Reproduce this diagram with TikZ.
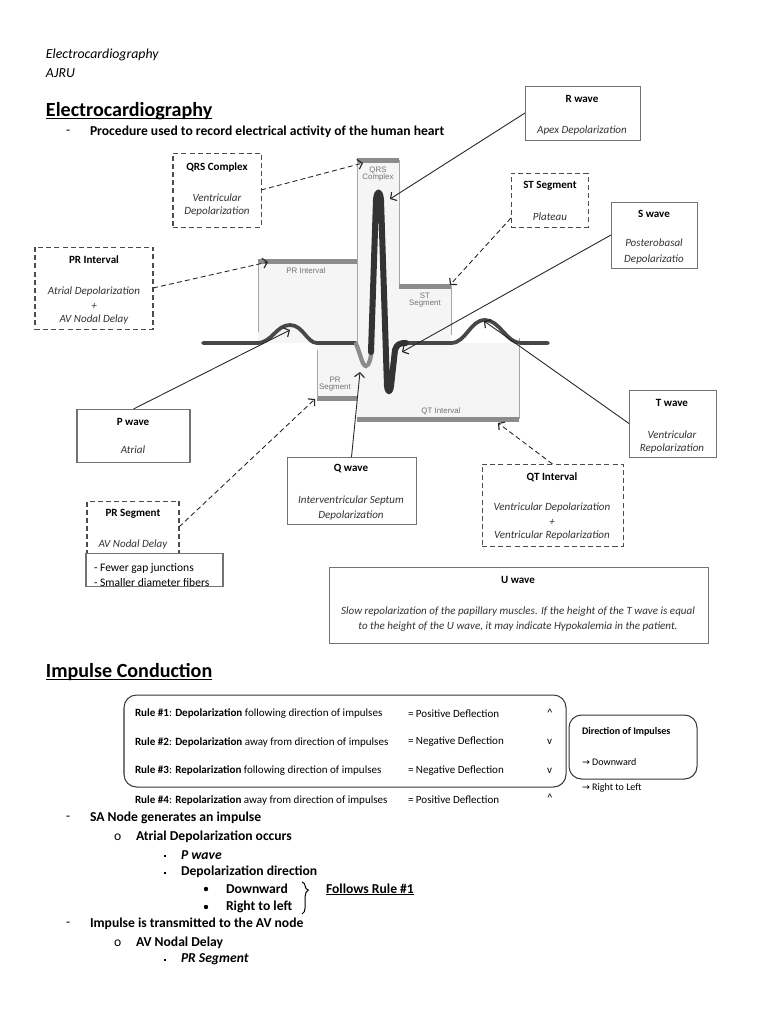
\documentclass[tikz,border=0pt]{standalone}
\usepackage{fontspec}
\setmainfont{Carlito}
\newfontfamily\arialf{Liberation Sans}
\newfontfamily\dejavu{DejaVu Sans}
\usetikzlibrary{arrows.meta,decorations.pathreplacing,fit}
\begin{document}
\begin{tikzpicture}[x=0.797pt,y=-0.797pt,
  every node/.style={inner sep=0pt, outer sep=0pt},
  txt/.style={anchor=west},
  boxs/.style={draw=black!55, line width=0.8pt, rectangle, inner sep=0pt},
  boxd/.style={draw=black!70, line width=0.8pt, rectangle, inner sep=0pt, dash pattern=on 4pt off 2.5pt},
  ttl/.style={font=\fontsize{8.8}{10}\selectfont\bfseries},
  itl/.style={font=\fontsize{8.8}{10}\selectfont\itshape, text=black!80},
  con/.style={draw=black!85, line width=0.7pt, -{Straight Barb[length=3.5pt,width=8pt,line width=0.9pt]}},
  cond/.style={con, dash pattern=on 4pt off 2.5pt},
  ivfill/.style={fill=black!4},
  ivline/.style={draw=black!35, line width=0.8pt},
  ivbar/.style={fill=black!45},
  ivlab/.style={font=\arialf\fontsize{6.3}{7}\selectfont, text=black!55, align=center},
  trace/.style={draw=black!72, line width=3pt, line cap=round, line join=round},
  rtr/.style={draw=black!80, line width=4.8pt, line cap=round, line join=round},
  qtr/.style={draw=black!45, line width=3.4pt, line cap=round},
  body/.style={anchor=west, font=\fontsize{10.85}{13}\selectfont\bfseries},
  bmark/.style={anchor=west, font=\fontsize{10.85}{13}\selectfont},
  rule/.style={anchor=west, font=\fontsize{8.8}{10}\selectfont},
]
\useasboundingbox (0,0) rectangle (768,1024);
\fill[white] (0,0) rectangle (768,1024);

% ---------- header ----------
\node[txt, font=\fontsize{11}{13}\selectfont\itshape] (hd1) at (46,55) {Electrocardiography};
\node[txt, font=\fontsize{11}{13}\selectfont\itshape] (hd2) at (46,73) {AJRU};
\node[anchor=base west, font=\fontsize{16}{19}\selectfont\bfseries] (h1) at (46,116) {Electrocardiography};
\draw[line width=1pt] ([yshift=-2pt]h1.base west) -- ([yshift=-2pt]h1.base east);
\node[bmark] (dsh1) at (66,132) {-};
\node[body] (proc) at (90,132) {Procedure used to record electrical activity of the human heart};

% ---------- ECG interval boxes ----------
% PR interval
\fill[ivfill] (258,262) rectangle (357,343);
\fill[ivbar] (258,259) rectangle (357,264);
\draw[ivline] (258,262) -- (258,332);
% QRS complex
\fill[ivfill] (357,160) rectangle (399,343);
\fill[ivbar] (357,158) rectangle (399,163);
\draw[ivline] (357,160) -- (357,343);
\draw[ivline] (399,160) -- (399,343);
% ST segment
\fill[ivfill] (399,286) rectangle (451,343);
\fill[ivbar] (399,284) rectangle (451,289);
\draw[ivline] (451,286) -- (451,335);
% PR segment
\fill[ivfill] (317,343) rectangle (357,398);
\fill[ivbar] (317,396) rectangle (357,401);
\draw[ivline] (317,350) -- (317,398);
\draw[ivline] (357,343) -- (357,398);
% QT interval
\fill[ivfill] (357,343) rectangle (519,419);
\fill[ivbar] (357,417) rectangle (519,422);
\draw[ivline] (519,338) -- (519,419);

\node[ivlab] (lqrs) at (378,174) {QRS\\[-1.5pt]Complex};
\node[ivlab] (lpri) at (306,271) {PR Interval};
\node[ivlab] (lst) at (425,300) {ST\\[-1.5pt]Segment};
\node[ivlab] (lprs) at (335,384) {PR\\[-1.5pt]Segment};
\node[ivlab] (lqt) at (441,411) {QT Interval};

% ---------- ECG trace ----------
\draw[trace] (203,343) -- (257,343) .. controls (272,343) and (276,325) .. (290,325) .. controls (303,325) and (307,343) .. (317,343) -- (356,343);
\draw[trace] (404,343) -- (451,343) .. controls (466,343) and (470,320) .. (485,320) .. controls (500,320) and (506,343) .. (521,343) -- (548,343);
\draw[qtr] (356,344) .. controls (360,352) and (362,366) .. (366,366) .. controls (369,366) and (371,358) .. (372,348);
\draw[rtr] (371,352) -- (376,200) .. controls (377,190) and (380,190) .. (381,200) -- (387,386) .. controls (388,393) and (390,393) .. (391,386) -- (395,350) .. controls (397,344) and (400,343) .. (406,343);

% named tip points
\coordinate (tR) at (390,199);
\coordinate (tQRS) at (363,163);
\coordinate (tST) at (450,285);
\coordinate (tS) at (402,352);
\coordinate (tPRI) at (268,262);
\coordinate (tP) at (290,330);
\coordinate (tPRS) at (315,399);
\coordinate (tQ) at (360,372);
\coordinate (tQT) at (498,423);
\coordinate (tT) at (484,321);

% ---------- callout boxes ----------
\node[boxs, fit={(525,86) (640,140)}] (rbox) {};
\node[ttl] (rt) at (582,99) {R wave};
\node[itl] (ri) at (582,131) {Apex Depolarization};

\node[boxd, fit={(173,153) (261,227)}] (qrsbox) {};
\node[ttl] (qrst) at (217,167) {QRS Complex};
\node[itl] (qrsi1) at (217,198) {Ventricular};
\node[itl] (qrsi2) at (217,212) {Depolarization};

\node[boxd, fit={(511,173) (588,227)}] (stbox) {};
\node[ttl] (stt) at (550,186) {ST Segment};
\node[itl] (sti) at (550,217) {Plateau};

\node[boxs, fit={(611,202) (697,268)}] (sbox) {};
\node[ttl] (stl) at (654,214) {S wave};
\node[itl] (si1) at (654,243) {Posterobasal};
\node[itl] (si2) at (654,260) {Depolarizatio};

\node[boxd, fit={(35,247) (153,329)}] (prbox) {};
\node[ttl] (prt) at (94,260) {PR Interval};
\node[itl] (pri1) at (94,292) {Atrial Depolarization};
\node[itl] (pri2) at (94,306) {+};
\node[itl] (pri3) at (94,320) {AV Nodal Delay};

\node[boxs, fit={(77,409) (190,462)}] (pbox) {};
\node[ttl] (pt) at (133,422) {P wave};
\node[itl] (pi) at (133,450) {Atrial};

\node[boxd, fit={(87,501) (179,553)}] (prsbox) {};
\node[ttl] (prst) at (133,514) {PR Segment};
\node[itl] (prsi) at (133,545) {AV Nodal Delay};
\node[boxs, fit={(86,553) (223,586)}] (fbox) {};
\node[anchor=west, font=\fontsize{9.2}{10}\selectfont] (f1) at (94,568) {- Fewer gap junctions};
\node[anchor=west, font=\fontsize{9.2}{10}\selectfont] (f2) at (94,583) {- Smaller diameter fibers};

\node[boxs, fit={(287,457) (416,524)}] (qbox) {};
\node[ttl] (qt) at (351,469) {Q wave};
\node[itl] (qi1) at (351,501) {Interventricular Septum};
\node[itl] (qi2) at (351,516) {Depolarization};

\node[boxd, fit={(482,464) (623,546)}] (qtbox) {};
\node[ttl] (qtt) at (552,477) {QT Interval};
\node[itl] (qti1) at (552,508) {Ventricular Depolarization};
\node[itl] (qti2) at (552,522) {+};
\node[itl] (qti3) at (552,536) {Ventricular Repolarization};

\node[boxs, fit={(629,390) (716,457)}] (tbox) {};
\node[ttl] (tt) at (672,403) {T wave};
\node[itl] (ti1) at (672,435) {Ventricular};
\node[itl] (ti2) at (672,449) {Repolarization};

\node[boxs, fit={(329,567) (708,643)}] (ubox) {};
\node[ttl] (ut) at (518,580) {U wave};
\node[itl] (ui1) at (518,612) {Slow repolarization of the papillary muscles. If the height of the T wave is equal};
\node[itl] (ui2) at (518,627) {to the height of the U wave, it may indicate Hypokalemia in the patient.};

% ---------- connectors ----------
\draw[con] (rbox.west) -- (tR);
\draw[cond] (qrsbox.east) -- (tQRS);
\draw[cond] (stbox.205) -- (tST);
\draw[con] (sbox.west) -- (tS);
\draw[cond] (prbox.east) -- (tPRI);
\draw[con] (pbox.north) -- (tP);
\draw[cond] (prsbox.east) -- (tPRS);
\draw[con] (qbox.north) -- (tQ);
\draw[cond] (qtbox.north) -- (tQT);
\draw[con] (tbox.west) -- (tT);

% ---------- Impulse conduction ----------
\node[anchor=base west, font=\fontsize{16}{19}\selectfont\bfseries] (h2) at (46,677) {Impulse Conduction};
\draw[line width=1pt] ([yshift=-2pt]h2.base west) -- ([yshift=-2pt]h2.base east);

\draw[draw=black!80, line width=0.8pt, rounded corners=10pt] (124,695) rectangle (566,787);
\node[rule] (r1) at (135,714) {\textbf{Rule \#1}: \textbf{Depolarization} following direction of impulses};
\node[rule] (r2) at (135,742) {\textbf{Rule \#2}: \textbf{Depolarization} away from direction of impulses};
\node[rule] (r3) at (135,771) {\textbf{Rule \#3}: \textbf{Repolarization} following direction of impulses};
\node[rule] (r4) at (135,800) {\textbf{Rule \#4}: \textbf{Repolarization} away from direction of impulses};
\node[rule] (d1) at (408,714) {= Positive Deflection};
\node[rule] (d2) at (408,742) {= Negative Deflection};
\node[rule] (d3) at (408,771) {= Negative Deflection};
\node[rule] (d4) at (408,800) {= Positive Deflection};
\node[rule] (s1) at (547,713) {\textasciicircum};
\node[rule] (s2) at (547,742) {v};
\node[rule] (s3) at (547,771) {v};
\node[rule] (s4) at (547,798) {\textasciicircum};

\draw[draw=black!80, line width=0.8pt, rounded corners=10pt] (569,715) rectangle (697,779);
\node[rule, font=\fontsize{8}{10}\selectfont\bfseries] (dir) at (582,732) {Direction of Impulses};
\node[rule, font=\fontsize{8}{10}\selectfont] (dir1) at (582,762) {{\dejavu\fontsize{7.5}{9}\selectfont →} Downward};
\node[rule, font=\fontsize{8}{10}\selectfont] (dir2) at (582,788) {{\dejavu\fontsize{7.5}{9}\selectfont →} Right to Left};

% ---------- bottom list ----------
\node[bmark] (b1d) at (66,818) {-};
\node[body] (b1) at (90,818) {SA Node generates an impulse};
\node[bmark] (b2d) at (114,837) {o};
\node[body] (b2) at (136,837) {Atrial Depolarization occurs};
\fill (164,855) rectangle (166,857);
\node[body, font=\fontsize{10.85}{13}\selectfont\bfseries\itshape] (b3) at (181,855) {P wave};
\fill (164,872) rectangle (166,874);
\node[body] (b4) at (181,872) {Depolarization direction};
\fill (206,889) circle (2.2);
\node[body] (b5) at (226,889) {Downward};
\fill (206,907) circle (2.2);
\node[body] (b6) at (226,907) {Right to left};
\draw[line width=0.8pt, decorate, decoration={brace, amplitude=5pt, aspect=0.25}] (302,882) -- (302,914);
\node[anchor=base west, font=\fontsize{10.85}{13}\selectfont\bfseries] (fr) at (326,893) {Follows Rule \#1};
\draw[line width=0.7pt] ([yshift=-1.5pt]fr.base west) -- ([yshift=-1.5pt]fr.base east);
\node[bmark] (b7d) at (66,924) {-};
\node[body] (b7) at (90,924) {Impulse is transmitted to the AV node};
\node[bmark] (b8d) at (114,943) {o};
\node[body] (b8) at (136,943) {AV Nodal Delay};
\fill (164,959) rectangle (166,961);
\node[body, font=\fontsize{10.85}{13}\selectfont\bfseries\itshape] (b9) at (181,959) {PR Segment};
\end{tikzpicture}
\end{document}
